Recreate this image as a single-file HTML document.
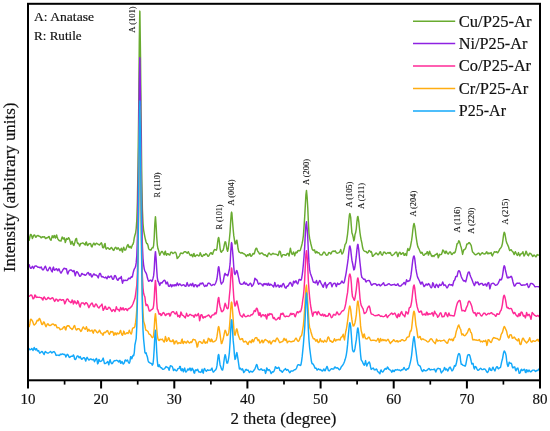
<!DOCTYPE html>
<html><head><meta charset="utf-8"><title>XRD</title>
<style>html,body{margin:0;padding:0;background:#fff}svg{display:block}text{font-family:"Liberation Serif","DejaVu Serif",serif;fill:#111;stroke:#111;stroke-width:0.18px}.s{stroke-width:0.1px}</style></head><body>
<svg width="550" height="431" viewBox="0 0 550 431">
<rect width="550" height="431" fill="#fff"/>
<g fill="none" stroke-width="1.45" stroke-linejoin="round" stroke-linecap="round">
<polyline stroke="#69ab30" points="28.0,234.8 28.6,237.6 29.2,240.3 29.9,236.8 30.5,234.5 31.1,234.5 31.7,235.9 32.4,238.5 33.0,237.3 33.6,235.4 34.2,235.0 34.8,235.2 35.5,237.1 36.1,237.3 36.7,236.0 37.3,235.6 37.9,235.5 38.6,235.9 39.2,236.3 39.8,236.4 40.4,236.9 41.1,237.8 41.7,237.5 42.3,236.7 42.9,236.9 43.5,237.1 44.2,236.7 44.8,237.1 45.4,238.5 46.0,238.5 46.7,237.8 47.3,237.8 47.9,237.7 48.5,236.6 49.1,236.5 49.8,238.6 50.4,239.8 51.0,240.3 51.6,238.3 52.2,235.8 52.9,237.3 53.5,237.7 54.1,235.5 54.7,235.7 55.4,238.1 56.0,237.1 56.6,235.0 57.2,237.0 57.8,238.8 58.5,239.8 59.1,240.5 59.7,240.7 60.3,240.9 61.0,241.1 61.6,238.8 62.2,237.0 62.8,238.6 63.4,239.0 64.1,237.7 64.7,239.3 65.3,242.6 65.9,240.8 66.5,238.5 67.2,239.2 67.8,239.2 68.4,237.7 69.0,238.1 69.7,239.8 70.3,242.1 70.9,244.3 71.5,242.2 72.1,241.3 72.8,243.6 73.4,244.9 74.0,245.4 74.6,243.3 75.3,240.3 75.9,238.8 76.5,238.4 77.1,241.9 77.7,243.6 78.4,243.2 79.0,244.3 79.6,246.1 80.2,244.8 80.8,243.4 81.5,243.4 82.1,243.2 82.7,242.9 83.3,243.2 84.0,243.8 84.6,244.5 85.2,245.0 85.8,242.5 86.4,241.9 87.1,245.0 87.7,245.6 88.3,244.4 88.9,243.9 89.5,243.7 90.2,243.5 90.8,244.0 91.4,246.6 92.0,246.9 92.7,245.0 93.3,243.9 93.9,243.1 94.5,244.3 95.1,245.0 95.8,243.8 96.4,243.3 97.0,243.5 97.6,243.9 98.3,244.3 98.9,244.7 99.5,245.0 100.1,244.2 100.7,243.5 101.4,242.7 102.0,244.3 102.6,247.4 103.2,247.8 103.8,247.5 104.5,244.2 105.1,243.5 105.7,247.9 106.3,249.2 107.0,248.1 107.6,247.8 108.2,247.9 108.8,248.8 109.4,249.3 110.1,249.0 110.7,248.3 111.3,247.4 111.9,248.0 112.6,249.1 113.2,250.1 113.8,250.4 114.4,248.9 115.0,247.8 115.7,247.3 116.3,248.0 116.9,249.3 117.5,248.5 118.1,247.8 118.8,248.7 119.4,249.6 120.0,250.6 120.6,249.9 121.3,248.2 121.9,250.2 122.5,252.1 123.1,248.7 123.7,247.2 124.4,249.4 125.0,250.2 125.6,249.9 126.2,248.4 126.9,246.6 127.5,245.1 128.1,244.6 128.7,246.9 129.3,247.5 130.0,246.3 130.6,247.0 131.2,248.2 131.8,246.6 132.4,244.9 133.1,244.0 133.7,241.7 134.3,237.7 134.9,235.3 135.6,233.0 136.2,228.5 136.8,220.1 137.4,201.9 138.0,166.3 138.7,108.6 139.3,40.4 139.8,11.1 139.9,11.7 140.5,55.6 141.2,125.4 141.8,179.3 142.4,209.5 143.0,223.5 143.6,230.1 144.3,233.9 144.9,237.1 145.5,239.8 146.1,242.0 146.7,243.5 147.4,243.7 148.0,245.4 148.6,248.5 149.2,249.5 149.9,249.7 150.5,250.1 151.1,250.0 151.7,248.4 152.3,247.8 153.0,247.9 153.6,245.5 154.2,238.1 154.8,224.4 155.4,216.8 155.5,216.9 156.1,225.3 156.7,237.0 157.3,244.8 157.9,248.6 158.6,250.4 159.2,253.0 159.8,255.2 160.4,253.8 161.0,252.5 161.7,251.4 162.3,251.5 162.9,252.5 163.5,253.7 164.2,254.8 164.8,252.2 165.4,251.2 166.0,254.6 166.6,255.3 167.3,253.6 167.9,253.6 168.5,254.2 169.1,254.9 169.8,255.1 170.4,253.2 171.0,252.1 171.6,252.1 172.2,252.7 172.9,253.5 173.5,253.2 174.1,252.8 174.7,252.1 175.3,252.1 176.0,253.1 176.6,255.4 177.2,258.5 177.8,258.0 178.5,257.0 179.1,256.5 179.7,255.5 180.3,253.5 180.9,252.9 181.6,253.4 182.2,253.5 182.8,253.5 183.4,252.7 184.1,252.0 184.7,251.8 185.3,251.8 185.9,252.0 186.5,252.6 187.2,253.3 187.8,252.2 188.4,251.7 189.0,253.1 189.6,254.3 190.3,255.5 190.9,255.4 191.5,254.5 192.1,255.9 192.8,256.8 193.4,254.0 194.0,253.4 194.6,256.1 195.2,256.5 195.9,255.6 196.5,255.1 197.1,254.8 197.7,255.2 198.3,255.6 199.0,256.0 199.6,255.0 200.2,252.8 200.8,254.1 201.5,256.1 202.1,256.5 202.7,256.3 203.3,255.0 203.9,254.6 204.6,255.2 205.2,254.6 205.8,253.6 206.4,254.1 207.1,254.8 207.7,256.0 208.3,256.3 208.9,255.7 209.5,254.6 210.2,253.3 210.8,252.8 211.4,252.7 212.0,254.1 212.6,254.2 213.3,252.0 213.9,250.6 214.5,249.5 215.1,249.7 215.8,249.8 216.4,250.2 217.0,248.1 217.6,242.7 218.2,238.4 218.6,237.5 218.9,238.1 219.5,242.9 220.1,248.6 220.7,251.5 221.4,252.3 222.0,251.2 222.6,250.6 223.2,250.2 223.8,247.5 224.5,243.9 225.1,241.8 225.1,241.8 225.7,242.2 226.3,245.5 226.9,249.2 227.6,251.2 228.2,248.9 228.8,243.8 229.4,239.0 230.1,231.6 230.7,221.1 231.3,213.3 231.6,212.1 231.9,213.3 232.5,221.2 233.2,229.8 233.8,235.9 234.4,239.6 235.0,243.8 235.7,243.9 236.3,240.9 236.8,240.2 236.9,240.3 237.5,244.1 238.1,248.8 238.8,251.5 239.4,252.3 240.0,252.4 240.6,253.1 241.2,253.1 241.9,252.5 242.5,252.9 243.1,253.5 243.7,253.7 244.4,254.0 245.0,254.5 245.6,255.3 246.2,256.5 246.8,256.0 247.5,254.7 248.1,255.3 248.7,255.6 249.3,254.0 250.0,253.8 250.6,255.9 251.2,256.3 251.8,255.8 252.4,254.6 253.1,253.4 253.7,254.1 254.3,253.7 254.9,251.5 255.5,249.3 256.2,248.2 256.6,248.4 256.8,248.5 257.4,250.5 258.0,251.6 258.7,252.2 259.3,253.7 259.9,254.1 260.5,253.5 261.1,253.2 261.8,252.9 262.4,253.4 263.0,253.9 263.6,254.7 264.3,255.0 264.9,254.7 265.5,255.0 266.1,255.5 266.7,256.3 267.4,256.6 268.0,254.5 268.6,253.2 269.2,253.1 269.8,253.7 270.5,254.6 271.1,254.7 271.7,254.6 272.3,253.7 273.0,253.3 273.6,253.9 274.2,254.1 274.8,254.0 275.4,254.1 276.1,254.3 276.7,254.4 277.3,254.8 277.9,255.5 278.6,254.4 279.2,251.4 279.8,251.2 280.4,251.9 281.0,254.9 281.7,256.9 282.3,255.4 282.9,254.6 283.5,254.6 284.1,254.7 284.8,255.0 285.4,255.3 286.0,255.3 286.6,254.3 287.3,253.6 287.9,253.3 288.5,254.3 289.1,256.0 289.7,252.2 290.4,248.2 291.0,251.1 291.6,253.3 292.2,254.4 292.9,253.7 293.5,251.9 294.1,253.5 294.7,255.7 295.3,253.4 296.0,252.0 296.6,253.0 297.2,252.5 297.8,250.6 298.4,250.5 299.1,250.8 299.7,250.8 300.3,250.3 300.9,248.1 301.6,245.8 302.2,243.2 302.8,240.1 303.4,235.6 304.0,227.3 304.7,216.6 305.3,205.8 305.9,194.8 306.5,190.4 306.5,190.5 307.1,196.9 307.8,208.6 308.4,222.5 309.0,233.8 309.6,238.2 310.3,241.1 310.9,244.0 311.5,246.4 312.1,248.8 312.7,249.9 313.4,250.5 314.0,249.9 314.6,250.0 315.2,252.6 315.9,253.0 316.5,251.4 317.1,251.9 317.7,252.9 318.3,252.7 319.0,252.7 319.6,253.9 320.2,254.7 320.8,254.9 321.4,255.0 322.1,254.9 322.7,253.8 323.3,252.7 323.9,252.1 324.6,252.2 325.2,253.4 325.8,254.4 326.4,255.2 327.0,255.2 327.7,254.9 328.3,253.4 328.9,252.5 329.5,252.6 330.2,253.1 330.8,254.0 331.4,253.1 332.0,251.8 332.6,251.3 333.3,251.0 333.9,251.5 334.5,251.4 335.1,250.8 335.7,251.6 336.4,252.9 337.0,253.1 337.6,253.2 338.2,252.9 338.9,252.6 339.5,252.2 340.1,251.0 340.7,249.5 341.3,251.9 342.0,254.1 342.6,253.5 343.2,252.3 343.8,250.0 344.5,247.4 345.1,244.4 345.7,243.7 346.3,242.4 346.9,238.6 347.6,233.8 348.2,227.9 348.8,220.8 349.4,215.0 349.8,213.6 350.0,213.8 350.7,217.4 351.3,225.6 351.9,232.7 352.5,234.4 353.2,237.2 353.8,240.9 354.4,239.2 355.0,234.5 355.6,232.8 356.3,228.8 356.9,221.9 357.5,217.1 357.9,216.4 358.1,217.1 358.8,221.8 359.4,227.6 360.0,232.8 360.6,236.8 361.2,240.0 361.9,243.1 362.5,247.0 363.1,249.2 363.7,250.5 364.3,251.1 365.0,251.4 365.6,251.4 366.2,251.7 366.8,252.7 367.5,253.0 368.1,252.5 368.7,250.9 369.1,250.7 369.3,250.5 369.9,251.0 370.6,252.2 371.2,251.5 371.8,252.8 372.4,256.2 373.1,256.3 373.7,255.1 374.3,254.8 374.9,254.3 375.5,253.3 376.2,253.0 376.8,253.6 377.4,254.2 378.0,254.9 378.6,254.2 379.3,253.3 379.9,251.9 380.5,251.8 381.1,253.8 381.8,254.8 382.4,255.2 383.0,253.8 383.6,252.3 384.2,252.1 384.9,252.3 385.5,253.3 386.1,253.7 386.7,253.5 387.4,253.0 388.0,252.4 388.6,253.0 389.2,253.3 389.8,252.4 390.5,252.9 391.1,254.6 391.7,255.3 392.3,255.6 392.9,255.0 393.6,254.5 394.2,254.0 394.8,253.3 395.4,252.4 396.1,252.1 396.7,252.2 397.3,254.7 397.9,256.5 398.5,254.2 399.2,252.7 399.8,252.2 400.4,252.9 401.0,254.4 401.7,254.0 402.3,253.2 402.9,252.7 403.5,253.1 404.1,255.3 404.8,255.3 405.4,253.6 406.0,254.4 406.6,255.5 407.2,251.1 407.9,248.4 408.5,250.3 409.1,250.5 409.7,249.1 410.4,246.8 411.0,243.7 411.6,240.4 412.2,236.0 412.8,230.2 413.5,225.1 414.0,223.4 414.1,223.5 414.7,225.9 415.3,229.9 415.9,235.3 416.6,240.1 417.2,244.0 417.8,246.6 418.4,247.9 419.1,249.3 419.7,250.7 420.3,252.1 420.9,253.3 421.5,252.3 422.2,252.4 422.8,254.3 423.4,255.2 424.0,255.3 424.7,254.5 425.3,253.5 425.9,253.9 426.5,253.6 427.1,251.7 427.8,252.2 428.4,255.1 429.0,253.9 429.6,251.3 430.2,252.7 430.9,254.2 431.5,256.0 432.1,256.5 432.7,255.6 433.4,255.8 434.0,256.5 434.6,255.5 435.2,254.5 435.8,254.7 436.5,254.4 437.1,253.3 437.7,254.8 438.3,257.8 439.0,256.3 439.6,254.3 440.2,254.6 440.8,254.7 441.4,254.4 442.1,252.8 442.7,250.1 443.3,250.3 443.9,251.2 444.5,252.8 445.2,253.4 445.8,251.3 446.4,251.2 447.0,252.9 447.7,253.6 448.3,254.1 448.9,253.1 449.5,252.2 450.1,251.9 450.8,252.5 451.4,254.4 452.0,254.5 452.6,253.7 453.3,253.0 453.9,252.4 454.5,252.9 455.1,252.3 455.7,250.2 456.4,247.2 457.0,243.8 457.6,243.8 458.2,242.5 458.8,240.7 458.8,240.6 459.5,241.6 460.1,243.8 460.7,246.0 461.3,247.8 462.0,251.2 462.6,254.4 463.2,251.8 463.8,249.7 464.4,249.7 465.1,249.2 465.7,248.2 466.3,246.3 466.9,244.0 467.6,244.0 468.2,243.6 468.8,242.7 469.1,242.6 469.4,242.7 470.0,243.5 470.7,244.6 471.3,245.8 471.9,249.1 472.5,251.8 473.1,252.4 473.8,253.1 474.4,254.0 475.0,254.5 475.6,254.7 476.3,254.5 476.9,254.2 477.5,253.7 478.1,253.3 478.7,253.1 479.4,253.7 480.0,255.1 480.6,254.6 481.2,253.7 481.9,253.0 482.5,252.7 483.1,253.5 483.7,253.9 484.3,254.0 485.0,253.8 485.6,253.5 486.2,252.3 486.8,251.7 487.4,253.4 488.1,253.9 488.7,253.0 489.3,253.1 489.9,253.6 490.6,252.9 491.2,252.6 491.8,255.1 492.4,255.9 493.0,254.3 493.7,253.0 494.3,251.7 494.9,251.9 495.5,252.2 496.2,251.8 496.8,251.8 497.4,252.8 498.0,252.5 498.6,251.4 499.3,250.2 499.9,248.7 500.5,248.2 501.1,247.4 501.7,246.3 502.4,243.6 503.0,239.3 503.6,234.7 504.2,232.2 504.3,232.2 504.9,233.6 505.5,237.2 506.1,240.5 506.7,242.9 507.3,244.0 508.0,245.6 508.6,247.0 509.2,249.2 509.8,250.6 510.5,249.9 511.1,249.7 511.1,249.7 511.7,250.5 512.3,251.5 512.9,251.7 513.6,253.3 514.2,254.6 514.8,252.6 515.4,251.7 516.0,253.2 516.7,254.5 517.3,255.5 517.9,254.2 518.5,252.6 519.2,254.8 519.8,255.9 520.4,254.4 521.0,253.7 521.6,253.9 522.3,253.0 522.9,251.7 523.5,254.2 524.1,256.0 524.7,255.0 525.4,253.4 526.0,251.3 526.6,252.1 527.2,254.3 527.9,255.2 528.5,255.7 529.1,254.1 529.7,253.2 530.3,253.4 531.0,253.9 531.6,254.7 532.2,255.7 532.8,256.5 533.5,255.5 534.1,254.9 534.7,255.6 535.3,256.2 535.9,256.9 536.6,255.9 537.2,254.6 537.8,254.9 538.4,255.1 539.0,254.8 539.7,254.4"/>
<polyline stroke="#8e22e2" points="28.0,266.7 28.6,265.4 29.2,264.7 29.9,267.0 30.5,268.3 31.1,268.2 31.7,267.4 32.4,266.3 33.0,267.4 33.6,268.5 34.2,267.1 34.8,266.1 35.5,266.0 36.1,266.0 36.7,266.2 37.3,266.7 37.9,267.2 38.6,267.1 39.2,267.2 39.8,267.8 40.4,267.7 41.1,266.9 41.7,268.0 42.3,269.5 42.9,269.9 43.5,269.8 44.2,268.3 44.8,267.0 45.4,266.2 46.0,267.6 46.7,269.9 47.3,270.6 47.9,270.8 48.5,269.5 49.1,268.3 49.8,267.2 50.4,267.9 51.0,269.7 51.6,271.1 52.2,271.9 52.9,268.4 53.5,267.1 54.1,269.7 54.7,270.3 55.4,269.6 56.0,269.0 56.6,268.7 57.2,270.2 57.8,270.7 58.5,268.9 59.1,269.0 59.7,270.8 60.3,272.1 61.0,273.2 61.6,272.1 62.2,271.1 62.8,270.0 63.4,269.1 64.1,268.2 64.7,268.4 65.3,269.0 65.9,268.6 66.5,268.9 67.2,272.6 67.8,274.0 68.4,272.1 69.0,271.0 69.7,270.3 70.3,270.0 70.9,269.9 71.5,270.2 72.1,270.8 72.8,271.6 73.4,271.4 74.0,270.5 74.6,273.0 75.3,275.8 75.9,273.4 76.5,271.7 77.1,271.7 77.7,272.4 78.4,273.7 79.0,274.9 79.6,276.2 80.2,276.2 80.8,275.7 81.5,273.9 82.1,273.4 82.7,274.2 83.3,274.5 84.0,274.4 84.6,274.9 85.2,275.3 85.8,275.1 86.4,274.5 87.1,273.3 87.7,272.8 88.3,272.5 88.9,273.9 89.5,275.1 90.2,273.8 90.8,273.9 91.4,276.7 92.0,277.0 92.7,275.7 93.3,274.7 93.9,273.8 94.5,274.6 95.1,275.1 95.8,275.0 96.4,275.2 97.0,275.7 97.6,276.7 98.3,277.9 98.9,275.5 99.5,273.6 100.1,273.3 100.7,274.2 101.4,276.6 102.0,277.0 102.6,276.5 103.2,276.9 103.8,277.3 104.5,277.7 105.1,277.7 105.7,277.1 106.3,277.7 107.0,278.8 107.6,277.4 108.2,276.1 108.8,277.1 109.4,277.5 110.1,276.7 110.7,276.2 111.3,276.0 111.9,277.5 112.6,279.3 113.2,279.3 113.8,278.6 114.4,276.0 115.0,275.4 115.7,276.3 116.3,277.7 116.9,279.2 117.5,280.1 118.1,280.3 118.8,278.6 119.4,277.9 120.0,278.5 120.6,277.7 121.3,276.5 121.9,280.3 122.5,283.2 123.1,281.1 123.7,280.1 124.4,280.5 125.0,280.5 125.6,280.2 126.2,280.4 126.9,280.5 127.5,280.0 128.1,279.3 128.7,278.1 129.3,278.1 130.0,278.8 130.6,277.9 131.2,276.7 131.8,277.2 132.4,276.5 133.1,273.1 133.7,270.7 134.3,269.1 134.9,268.0 135.6,266.4 136.2,262.9 136.8,255.6 137.4,238.3 138.0,203.9 138.7,147.8 139.3,84.6 139.8,57.7 139.9,58.3 140.5,98.6 141.2,163.3 141.8,216.5 142.4,246.1 143.0,258.5 143.6,264.8 144.3,269.1 144.9,271.0 145.5,272.2 146.1,273.1 146.7,274.7 147.4,277.8 148.0,279.8 148.6,281.2 149.2,281.0 149.9,280.4 150.5,280.1 151.1,280.2 151.7,281.4 152.3,280.9 153.0,278.4 153.6,275.9 154.2,269.7 154.8,257.7 155.4,251.6 155.5,251.6 156.1,258.6 156.7,269.4 157.3,277.7 157.9,281.0 158.6,282.0 159.2,284.1 159.8,285.4 160.4,283.5 161.0,282.6 161.7,283.1 162.3,282.6 162.9,281.5 163.5,280.9 164.2,280.3 164.8,280.5 165.4,281.4 166.0,283.7 166.6,283.7 167.3,282.1 167.9,283.8 168.5,286.1 169.1,286.4 169.8,286.1 170.4,284.5 171.0,284.7 171.6,286.7 172.2,286.1 172.9,284.7 173.5,285.6 174.1,286.0 174.7,284.7 175.3,284.6 176.0,285.8 176.6,284.8 177.2,282.9 177.8,284.3 178.5,285.5 179.1,284.4 179.7,283.9 180.3,284.3 180.9,284.9 181.6,285.7 182.2,285.4 182.8,285.0 183.4,284.8 184.1,284.9 184.7,285.8 185.3,286.2 185.9,286.3 186.5,284.5 187.2,282.6 187.8,284.6 188.4,286.0 189.0,286.1 189.6,285.4 190.3,284.0 190.9,284.5 191.5,285.7 192.1,284.0 192.8,283.3 193.4,286.1 194.0,286.7 194.6,285.1 195.2,284.7 195.9,284.8 196.5,286.1 197.1,286.9 197.7,285.5 198.3,285.0 199.0,285.8 199.6,285.0 200.2,283.3 200.8,283.6 201.5,283.9 202.1,283.0 202.7,282.9 203.3,284.1 203.9,285.3 204.6,286.5 205.2,286.1 205.8,285.3 206.4,286.0 207.1,285.9 207.7,283.9 208.3,283.1 208.9,283.2 209.5,283.5 210.2,283.9 210.8,284.9 211.4,285.6 212.0,285.3 212.6,284.9 213.3,284.4 213.9,284.6 214.5,285.0 215.1,284.0 215.8,282.6 216.4,281.1 217.0,278.5 217.6,274.2 218.2,268.2 218.6,266.8 218.9,267.1 219.5,271.5 220.1,277.2 220.7,282.1 221.4,284.1 222.0,283.0 222.6,282.4 223.2,281.7 223.8,278.2 224.5,274.6 225.1,273.3 225.1,273.3 225.7,274.9 226.3,274.7 226.9,274.6 227.6,275.8 228.2,274.7 228.8,271.8 229.4,269.5 230.1,263.7 230.7,252.7 231.3,244.0 231.6,242.6 231.9,243.6 232.5,250.4 233.2,258.4 233.8,267.2 234.4,273.1 235.0,274.5 235.7,273.3 236.3,271.1 236.8,270.6 236.9,270.7 237.5,272.5 238.1,275.6 238.8,278.7 239.4,281.8 240.0,283.5 240.6,284.0 241.2,284.2 241.9,284.2 242.5,284.1 243.1,284.0 243.7,282.5 244.4,282.0 245.0,283.8 245.6,284.2 246.2,283.2 246.8,283.8 247.5,284.9 248.1,285.3 248.7,285.4 249.3,284.2 250.0,283.5 250.6,283.2 251.2,284.4 251.8,286.4 252.4,285.8 253.1,284.9 253.7,283.6 254.3,281.4 254.9,278.2 255.5,278.7 256.2,279.8 256.6,279.7 256.8,279.7 257.4,281.1 258.0,283.2 258.7,284.3 259.3,283.4 259.9,283.2 260.5,283.6 261.1,283.9 261.8,284.2 262.4,285.5 263.0,285.9 263.6,283.9 264.3,283.6 264.9,284.6 265.5,284.3 266.1,283.5 266.7,284.7 267.4,285.2 268.0,283.4 268.6,283.3 269.2,285.2 269.8,285.2 270.5,284.3 271.1,284.5 271.7,284.9 272.3,285.6 273.0,286.3 273.6,286.9 274.2,285.3 274.8,282.5 275.4,284.5 276.1,286.8 276.7,286.3 277.3,285.7 277.9,284.9 278.6,285.5 279.2,287.2 279.8,286.5 280.4,285.4 281.0,286.5 281.7,286.7 282.3,284.8 282.9,283.8 283.5,283.5 284.1,285.0 284.8,287.0 285.4,287.9 286.0,288.2 286.6,286.7 287.3,286.0 287.9,286.2 288.5,285.2 289.1,283.9 289.7,283.0 290.4,282.4 291.0,283.4 291.6,284.7 292.2,286.3 292.9,284.6 293.5,281.2 294.1,281.9 294.7,282.7 295.3,281.2 296.0,280.8 296.6,282.5 297.2,283.5 297.8,283.9 298.4,281.8 299.1,279.4 299.7,279.5 300.3,279.7 300.9,280.3 301.6,278.7 302.2,275.0 302.8,270.3 303.4,264.1 304.0,256.7 304.7,246.6 305.3,234.4 305.9,225.0 306.5,221.8 306.5,222.0 307.1,228.2 307.8,238.8 308.4,252.1 309.0,262.9 309.6,269.4 310.3,273.2 310.9,274.7 311.5,276.4 312.1,278.0 312.7,280.3 313.4,282.2 314.0,282.2 314.6,282.3 315.2,282.9 315.9,282.1 316.5,280.5 317.1,282.5 317.7,284.9 318.3,283.3 319.0,281.9 319.6,280.6 320.2,280.9 320.8,282.6 321.4,283.9 322.1,284.9 322.7,286.6 323.3,287.3 323.9,285.0 324.6,283.3 325.2,282.4 325.8,284.5 326.4,287.9 327.0,286.3 327.7,284.7 328.3,284.3 328.9,283.7 329.5,282.9 330.2,282.6 330.8,282.7 331.4,284.8 332.0,286.7 332.6,285.0 333.3,283.8 333.9,283.4 334.5,283.3 335.1,283.3 335.7,284.9 336.4,286.6 337.0,284.4 337.6,283.1 338.2,284.2 338.9,284.4 339.5,283.9 340.1,283.6 340.7,283.3 341.3,281.9 342.0,281.1 342.6,282.2 343.2,282.9 343.8,283.1 344.5,281.2 345.1,278.2 345.7,275.3 346.3,271.8 346.9,267.6 347.6,263.0 348.2,258.4 348.8,252.2 349.4,247.1 349.8,245.9 350.0,246.1 350.7,249.4 351.3,255.1 351.9,260.2 352.5,263.0 353.2,266.5 353.8,269.9 354.4,269.3 355.0,266.5 355.6,262.1 356.3,256.2 356.9,249.9 357.5,245.1 357.9,244.3 358.1,245.0 358.8,250.2 359.4,256.9 360.0,262.8 360.6,268.2 361.2,274.3 361.9,277.5 362.5,277.9 363.1,278.6 363.7,279.3 364.3,279.2 365.0,279.3 365.6,281.3 366.2,282.0 366.8,280.9 367.5,280.6 368.1,280.6 368.7,280.4 369.1,280.4 369.3,280.6 369.9,281.7 370.6,283.0 371.2,284.7 371.8,285.2 372.4,284.7 373.1,284.2 373.7,283.7 374.3,283.8 374.9,283.9 375.5,283.8 376.2,284.3 376.8,285.5 377.4,285.3 378.0,284.8 378.6,284.4 379.3,284.4 379.9,285.6 380.5,285.9 381.1,285.2 381.8,284.7 382.4,284.1 383.0,283.2 383.6,282.7 384.2,284.6 384.9,285.6 385.5,285.4 386.1,285.2 386.7,285.1 387.4,284.6 388.0,284.2 388.6,283.8 389.2,283.8 389.8,284.3 390.5,284.8 391.1,285.3 391.7,285.1 392.3,284.7 392.9,284.7 393.6,284.6 394.2,284.3 394.8,284.5 395.4,285.3 396.1,285.3 396.7,285.2 397.3,284.3 397.9,283.8 398.5,285.3 399.2,286.0 399.8,286.0 400.4,285.9 401.0,285.9 401.7,285.0 402.3,284.1 402.9,284.0 403.5,283.4 404.1,282.4 404.8,283.1 405.4,284.7 406.0,282.2 406.6,279.7 407.2,281.0 407.9,281.6 408.5,281.0 409.1,280.8 409.7,280.7 410.4,278.3 411.0,274.9 411.6,270.4 412.2,265.1 412.8,260.0 413.5,256.7 414.0,255.9 414.1,255.9 414.7,258.4 415.3,263.7 415.9,268.7 416.6,272.8 417.2,275.7 417.8,277.7 418.4,278.8 419.1,280.2 419.7,281.4 420.3,283.2 420.9,284.2 421.5,282.5 422.2,282.1 422.8,283.4 423.4,284.9 424.0,286.6 424.7,286.0 425.3,285.1 425.9,284.2 426.5,284.1 427.1,285.2 427.8,284.9 428.4,283.6 429.0,284.0 429.6,284.8 430.2,286.3 430.9,287.5 431.5,287.8 432.1,286.2 432.7,282.8 433.4,283.7 434.0,286.0 434.6,287.2 435.2,287.6 435.8,285.2 436.5,284.3 437.1,285.1 437.7,286.2 438.3,287.4 439.0,285.6 439.6,284.2 440.2,285.1 440.8,285.5 441.4,285.0 442.1,283.6 442.7,281.9 443.3,283.6 443.9,285.4 444.5,284.9 445.2,284.9 445.8,285.9 446.4,287.0 447.0,288.0 447.7,287.1 448.3,285.8 448.9,284.7 449.5,284.2 450.1,284.9 450.8,285.0 451.4,284.7 452.0,285.1 452.6,285.7 453.3,283.0 453.9,280.8 454.5,280.4 455.1,279.1 455.7,276.7 456.4,276.3 457.0,276.6 457.6,273.8 458.2,271.4 458.8,270.7 458.8,270.7 459.5,271.1 460.1,272.4 460.7,274.6 461.3,276.8 462.0,278.3 462.6,279.2 463.2,280.5 463.8,281.1 464.4,280.7 465.1,281.0 465.7,281.8 466.3,279.8 466.9,277.0 467.6,274.2 468.2,272.4 468.8,272.0 469.1,272.0 469.4,272.4 470.0,274.7 470.7,276.7 471.3,278.0 471.9,279.6 472.5,281.1 473.1,282.7 473.8,284.2 474.4,285.6 475.0,284.4 475.6,282.0 476.3,282.5 476.9,282.8 477.5,282.0 478.1,282.4 478.7,284.5 479.4,284.8 480.0,284.0 480.6,283.7 481.2,283.5 481.9,283.4 482.5,283.9 483.1,285.2 483.7,285.3 484.3,284.6 485.0,284.1 485.6,283.9 486.2,285.6 486.8,286.1 487.4,283.9 488.1,282.8 488.7,282.6 489.3,285.3 489.9,288.9 490.6,286.1 491.2,283.9 491.8,283.7 492.4,283.4 493.0,283.2 493.7,283.5 494.3,284.0 494.9,284.7 495.5,285.3 496.2,285.1 496.8,284.9 497.4,284.4 498.0,283.6 498.6,282.4 499.3,280.8 499.9,279.2 500.5,279.9 501.1,279.9 501.7,279.0 502.4,276.4 503.0,272.3 503.6,267.8 504.2,265.7 504.3,265.7 504.9,267.0 505.5,270.5 506.1,272.9 506.7,275.4 507.3,277.7 508.0,278.0 508.6,277.1 509.2,277.6 509.8,277.4 510.5,276.7 511.1,276.3 511.1,276.3 511.7,277.0 512.3,279.0 512.9,281.7 513.6,284.1 514.2,285.9 514.8,285.9 515.4,285.3 516.0,284.0 516.7,283.4 517.3,283.1 517.9,283.2 518.5,283.3 519.2,283.1 519.8,283.3 520.4,284.2 521.0,284.9 521.6,285.3 522.3,285.2 522.9,285.0 523.5,285.0 524.1,285.0 524.7,285.0 525.4,284.9 526.0,284.6 526.6,284.1 527.2,283.6 527.9,285.9 528.5,287.5 529.1,286.9 529.7,285.7 530.3,283.9 531.0,283.4 531.6,283.4 532.2,283.7 532.8,284.0 533.5,284.6 534.1,285.4 534.7,286.5 535.3,286.8 535.9,286.6 536.6,286.6 537.2,286.6 537.8,286.6 538.4,286.7 539.0,286.7 539.7,286.5"/>
<polyline stroke="#ff2a97" points="28.0,294.0 28.6,296.4 29.2,296.2 29.9,295.8 30.5,295.2 31.1,295.0 31.7,295.1 32.4,296.9 33.0,298.8 33.6,298.6 34.2,297.6 34.8,295.1 35.5,295.2 36.1,297.2 36.7,297.4 37.3,297.1 37.9,297.3 38.6,297.4 39.2,297.3 39.8,297.4 40.4,297.6 41.1,297.8 41.7,298.0 42.3,299.4 42.9,300.1 43.5,297.8 44.2,296.9 44.8,298.0 45.4,298.8 46.0,299.6 46.7,299.3 47.3,298.8 47.9,297.7 48.5,297.4 49.1,298.4 49.8,298.9 50.4,299.1 51.0,298.6 51.6,298.1 52.2,297.8 52.9,298.0 53.5,299.2 54.1,300.3 54.7,301.4 55.4,300.4 56.0,299.1 56.6,299.3 57.2,299.8 57.8,301.1 58.5,301.0 59.1,299.7 59.7,299.4 60.3,299.4 61.0,300.0 61.6,300.3 62.2,299.9 62.8,299.6 63.4,299.6 64.1,301.2 64.7,303.8 65.3,302.8 65.9,301.4 66.5,299.8 67.2,298.9 67.8,299.1 68.4,300.0 69.0,301.3 69.7,301.7 70.3,302.0 70.9,302.7 71.5,302.4 72.1,300.0 72.8,300.8 73.4,304.0 74.0,303.0 74.6,301.0 75.3,302.0 75.9,303.0 76.5,303.9 77.1,303.2 77.7,300.8 78.4,301.9 79.0,304.1 79.6,306.1 80.2,307.1 80.8,304.5 81.5,303.0 82.1,302.9 82.7,302.9 83.3,302.9 84.0,303.9 84.6,304.7 85.2,303.5 85.8,302.7 86.4,302.7 87.1,303.4 87.7,304.6 88.3,306.3 88.9,307.7 89.5,306.3 90.2,305.1 90.8,304.3 91.4,303.5 92.0,302.9 92.7,304.3 93.3,306.2 93.9,306.7 94.5,306.7 95.1,304.9 95.8,304.1 96.4,304.3 97.0,305.3 97.6,306.6 98.3,307.5 98.9,308.0 99.5,307.1 100.1,306.3 100.7,305.7 101.4,304.9 102.0,304.1 102.6,307.3 103.2,310.3 103.8,309.3 104.5,308.0 105.1,306.2 105.7,307.0 106.3,309.3 107.0,309.4 107.6,309.2 108.2,308.0 108.8,307.3 109.4,307.5 110.1,308.3 110.7,309.4 111.3,310.5 111.9,311.5 112.6,310.4 113.2,309.6 113.8,309.8 114.4,310.5 115.0,311.6 115.7,309.8 116.3,306.8 116.9,308.3 117.5,309.5 118.1,309.4 118.8,309.9 119.4,311.1 120.0,309.8 120.6,307.5 121.3,308.7 121.9,309.8 122.5,308.1 123.1,307.8 123.7,309.8 124.4,310.0 125.0,309.0 125.6,308.8 126.2,308.8 126.9,310.1 127.5,310.6 128.1,309.1 128.7,308.5 129.3,308.5 130.0,308.1 130.6,307.4 131.2,306.9 131.8,306.2 132.4,305.0 133.1,303.5 133.7,301.7 134.3,300.2 134.9,298.6 135.6,294.3 136.2,289.6 136.8,285.1 137.4,272.7 138.0,244.1 138.7,192.0 139.3,131.1 139.8,106.1 139.9,106.6 140.5,145.7 141.2,205.7 141.8,251.1 142.4,276.2 143.0,287.8 143.6,293.3 144.3,295.5 144.9,297.0 145.5,302.4 146.1,305.6 146.7,304.5 147.4,304.9 148.0,306.3 148.6,308.6 149.2,310.9 149.9,310.9 150.5,310.7 151.1,309.9 151.7,309.5 152.3,309.3 153.0,308.5 153.6,305.6 154.2,298.7 154.8,287.2 155.4,280.4 155.5,280.4 156.1,287.6 156.7,301.8 157.3,309.1 157.9,310.0 158.6,312.5 159.2,314.3 159.8,313.6 160.4,313.8 161.0,315.5 161.7,315.3 162.3,313.8 162.9,313.0 163.5,312.4 164.2,313.4 164.8,314.5 165.4,315.6 166.0,315.3 166.6,313.9 167.3,313.9 167.9,314.1 168.5,313.4 169.1,313.5 169.8,316.0 170.4,315.9 171.0,313.3 171.6,312.4 172.2,312.0 172.9,311.7 173.5,311.7 174.1,312.6 174.7,313.4 175.3,314.0 176.0,313.2 176.6,311.8 177.2,314.3 177.8,316.5 178.5,315.4 179.1,315.4 179.7,317.2 180.3,315.7 180.9,312.0 181.6,313.4 182.2,315.3 182.8,315.4 183.4,315.7 184.1,316.5 184.7,317.2 185.3,317.9 185.9,315.9 186.5,313.3 187.2,315.0 187.8,316.2 188.4,316.0 189.0,315.5 189.6,314.5 190.3,314.4 190.9,314.8 191.5,315.3 192.1,315.7 192.8,315.4 193.4,315.9 194.0,317.3 194.6,316.4 195.2,314.4 195.9,315.0 196.5,315.7 197.1,315.5 197.7,314.8 198.3,313.5 199.0,316.0 199.6,320.7 200.2,318.4 200.8,315.2 201.5,314.7 202.1,315.1 202.7,317.7 203.3,318.1 203.9,316.8 204.6,316.9 205.2,317.4 205.8,316.6 206.4,316.1 207.1,316.0 207.7,315.6 208.3,314.9 208.9,315.2 209.5,316.0 210.2,317.1 210.8,317.7 211.4,316.4 212.0,315.4 212.6,315.0 213.3,314.9 213.9,314.8 214.5,313.7 215.1,312.8 215.8,314.0 216.4,313.0 217.0,308.4 217.6,303.2 218.2,298.5 218.6,297.4 218.9,298.1 219.5,303.5 220.1,306.7 220.7,308.5 221.4,311.2 222.0,311.8 222.6,311.1 223.2,310.7 223.8,309.4 224.5,305.9 225.1,303.3 225.1,303.3 225.7,304.5 226.3,306.8 226.9,308.2 227.6,308.8 228.2,308.1 228.8,302.8 229.4,295.8 230.1,288.7 230.7,278.4 231.3,269.4 231.6,267.9 231.9,269.1 232.5,277.4 233.2,288.5 233.8,297.6 234.4,303.5 235.0,306.0 235.7,305.0 236.3,302.0 236.8,301.0 236.9,301.1 237.5,303.6 238.1,306.5 238.8,309.8 239.4,312.3 240.0,314.5 240.6,315.6 241.2,316.0 241.9,316.6 242.5,317.1 243.1,315.1 243.7,314.0 244.4,315.4 245.0,316.3 245.6,316.7 246.2,316.6 246.8,316.3 247.5,315.8 248.1,315.4 248.7,315.8 249.3,316.1 250.0,316.1 250.6,315.5 251.2,314.6 251.8,314.7 252.4,314.7 253.1,313.7 253.7,312.3 254.3,310.5 254.9,310.6 255.5,311.4 256.2,308.8 256.6,308.1 256.8,308.1 257.4,309.1 258.0,311.5 258.7,315.1 259.3,315.3 259.9,312.6 260.5,314.3 261.1,316.9 261.8,315.8 262.4,314.9 263.0,314.7 263.6,315.1 264.3,316.0 264.9,315.6 265.5,314.7 266.1,317.5 266.7,319.1 267.4,315.3 268.0,313.9 268.6,315.4 269.2,315.0 269.8,313.6 270.5,313.9 271.1,314.3 271.7,313.9 272.3,314.8 273.0,317.9 273.6,318.5 274.2,317.6 274.8,318.6 275.4,319.8 276.1,319.9 276.7,319.6 277.3,319.0 277.9,318.3 278.6,317.5 279.2,318.3 279.8,319.3 280.4,315.8 281.0,313.4 281.7,314.3 282.3,314.2 282.9,313.1 283.5,314.1 284.1,315.9 284.8,316.4 285.4,316.8 286.0,316.3 286.6,316.1 287.3,316.3 287.9,316.4 288.5,316.4 289.1,316.1 289.7,315.5 290.4,313.8 291.0,313.2 291.6,314.5 292.2,314.4 292.9,313.6 293.5,313.7 294.1,314.1 294.7,316.1 295.3,316.8 296.0,314.8 296.6,313.1 297.2,311.7 297.8,312.1 298.4,312.8 299.1,311.8 299.7,311.2 300.3,311.8 300.9,310.9 301.6,308.3 302.2,304.7 302.8,299.9 303.4,296.1 304.0,289.7 304.7,279.1 305.3,266.2 305.9,254.7 306.5,250.7 306.5,250.7 307.1,255.7 307.8,268.2 308.4,281.7 309.0,290.3 309.6,297.1 310.3,303.2 310.9,307.5 311.5,310.5 312.1,313.7 312.7,316.2 313.4,313.8 314.0,312.1 314.6,312.4 315.2,312.3 315.9,311.8 316.5,313.1 317.1,314.8 317.7,312.6 318.3,311.4 319.0,312.6 319.6,313.7 320.2,314.6 320.8,315.1 321.4,315.5 322.1,314.5 322.7,314.0 323.3,315.7 323.9,316.0 324.6,314.6 325.2,315.1 325.8,316.4 326.4,316.2 327.0,315.9 327.7,316.2 328.3,315.6 328.9,313.5 329.5,313.5 330.2,314.8 330.8,316.3 331.4,317.7 332.0,317.4 332.6,316.6 333.3,314.8 333.9,314.3 334.5,314.9 335.1,315.1 335.7,315.1 336.4,313.1 337.0,311.9 337.6,313.0 338.2,313.9 338.9,314.7 339.5,314.5 340.1,314.0 340.7,313.1 341.3,312.1 342.0,311.2 342.6,310.7 343.2,310.8 343.8,310.1 344.5,308.7 345.1,306.6 345.7,303.9 346.3,300.2 346.9,296.2 347.6,292.4 348.2,285.7 348.8,278.4 349.4,274.8 349.8,274.0 350.0,274.3 350.7,276.9 351.3,282.5 351.9,291.7 352.5,296.7 353.2,297.8 353.8,299.6 354.4,300.3 355.0,298.1 355.6,294.4 356.3,289.5 356.9,283.6 357.5,278.8 357.9,277.9 358.1,278.5 358.8,283.0 359.4,290.9 360.0,298.3 360.6,302.7 361.2,305.4 361.9,306.7 362.5,307.9 363.1,308.9 363.7,311.4 364.3,313.5 365.0,313.3 365.6,312.8 366.2,312.1 366.8,310.5 367.5,308.1 368.1,307.1 368.7,306.3 369.1,306.0 369.3,306.2 369.9,308.0 370.6,311.7 371.2,313.8 371.8,314.1 372.4,314.4 373.1,314.5 373.7,315.0 374.3,315.4 374.9,315.7 375.5,315.7 376.2,315.4 376.8,315.4 377.4,315.4 378.0,315.0 378.6,314.7 379.3,315.2 379.9,315.7 380.5,316.4 381.1,316.3 381.8,316.0 382.4,316.4 383.0,316.7 383.6,316.6 384.2,316.4 384.9,316.0 385.5,315.4 386.1,314.5 386.7,316.0 387.4,317.6 388.0,316.6 388.6,315.7 389.2,315.3 389.8,314.8 390.5,314.1 391.1,313.5 391.7,312.9 392.3,313.8 392.9,314.4 393.6,313.9 394.2,313.5 394.8,313.1 395.4,314.1 396.1,315.7 396.7,317.1 397.3,317.7 397.9,314.6 398.5,313.9 399.2,316.5 399.8,315.9 400.4,314.0 401.0,312.5 401.7,311.6 402.3,313.6 402.9,314.9 403.5,315.0 404.1,315.7 404.8,316.8 405.4,314.4 406.0,311.6 406.6,312.3 407.2,313.1 407.9,314.0 408.5,312.3 409.1,308.3 409.7,307.5 410.4,307.2 411.0,305.1 411.6,301.8 412.2,297.0 412.8,291.1 413.5,286.2 414.0,285.0 414.1,285.0 414.7,287.8 415.3,293.4 415.9,299.2 416.6,303.7 417.2,306.9 417.8,308.9 418.4,310.8 419.1,312.3 419.7,312.1 420.3,311.6 420.9,310.9 421.5,311.5 422.2,314.3 422.8,315.0 423.4,314.4 424.0,314.1 424.7,313.9 425.3,315.1 425.9,315.0 426.5,312.2 427.1,312.4 427.8,314.8 428.4,314.5 429.0,313.6 429.6,314.0 430.2,314.2 430.9,313.9 431.5,313.4 432.1,312.6 432.7,314.0 433.4,316.1 434.0,313.3 434.6,311.3 435.2,312.9 435.8,313.9 436.5,314.2 437.1,315.5 437.7,317.3 438.3,316.6 439.0,315.7 439.6,314.2 440.2,313.2 440.8,312.8 441.4,314.2 442.1,316.8 442.7,316.8 443.3,316.5 443.9,316.5 444.5,315.6 445.2,312.9 445.8,312.6 446.4,314.2 447.0,315.5 447.7,316.7 448.3,314.3 448.9,313.0 449.5,314.8 450.1,315.6 450.8,315.4 451.4,315.4 452.0,315.6 452.6,315.7 453.3,315.9 453.9,316.1 454.5,315.0 455.1,312.1 455.7,309.3 456.4,306.4 457.0,304.2 457.6,302.5 458.2,301.8 458.8,300.9 458.8,300.9 459.5,300.4 460.1,300.8 460.7,303.9 461.3,307.6 462.0,310.8 462.6,310.6 463.2,310.4 463.8,310.7 464.4,311.0 465.1,311.3 465.7,309.9 466.3,307.8 466.9,306.7 467.6,305.0 468.2,302.4 468.8,301.3 469.1,301.2 469.4,301.3 470.0,302.0 470.7,303.5 471.3,305.1 471.9,306.8 472.5,309.7 473.1,311.8 473.8,313.0 474.4,313.1 475.0,312.5 475.6,314.5 476.3,316.0 476.9,314.0 477.5,312.9 478.1,313.2 478.7,313.2 479.4,313.0 480.0,314.0 480.6,315.1 481.2,315.8 481.9,316.0 482.5,314.9 483.1,314.1 483.7,313.3 484.3,313.2 485.0,313.3 485.6,314.3 486.2,315.0 486.8,314.7 487.4,314.2 488.1,313.4 488.7,313.5 489.3,313.9 489.9,313.5 490.6,313.1 491.2,312.7 491.8,312.8 492.4,313.8 493.0,314.1 493.7,314.2 494.3,314.7 494.9,315.2 495.5,316.2 496.2,316.0 496.8,314.0 497.4,313.7 498.0,314.3 498.6,314.3 499.3,314.0 499.9,312.3 500.5,310.9 501.1,310.3 501.7,308.1 502.4,304.6 503.0,299.9 503.6,296.1 504.2,295.3 504.3,295.3 504.9,297.0 505.5,299.7 506.1,303.0 506.7,306.9 507.3,307.9 508.0,307.4 508.6,308.3 509.2,308.7 509.8,308.6 510.5,308.4 511.1,308.4 511.1,308.4 511.7,309.2 512.3,310.8 512.9,312.5 513.6,313.7 514.2,312.7 514.8,312.5 515.4,313.9 516.0,314.9 516.7,315.7 517.3,316.4 517.9,316.7 518.5,314.4 519.2,313.6 519.8,315.9 520.4,315.2 521.0,312.2 521.6,312.1 522.3,312.8 522.9,314.9 523.5,316.2 524.1,315.4 524.7,316.0 525.4,317.9 526.0,315.8 526.6,312.4 527.2,314.4 527.9,315.8 528.5,314.6 529.1,314.3 529.7,315.4 530.3,317.1 531.0,319.3 531.6,315.7 532.2,312.4 532.8,313.2 533.5,314.0 534.1,314.8 534.7,315.4 535.3,315.7 535.9,316.0 536.6,316.2 537.2,315.7 537.8,315.5 538.4,315.8 539.0,316.4 539.7,317.2"/>
<polyline stroke="#ffad12" points="28.0,324.8 28.6,326.8 29.2,326.5 29.9,323.7 30.5,319.5 31.1,319.3 31.7,319.9 32.4,321.0 33.0,322.4 33.6,324.4 34.2,325.1 34.8,324.5 35.5,323.8 36.1,323.0 36.7,321.3 37.3,320.2 37.9,320.8 38.6,320.3 39.2,318.4 39.8,318.9 40.4,320.2 41.1,322.3 41.7,324.2 42.3,324.6 42.9,324.0 43.5,321.9 44.2,322.2 44.8,323.8 45.4,325.5 46.0,326.8 46.7,325.3 47.3,324.2 47.9,323.8 48.5,324.3 49.1,325.4 49.8,325.5 50.4,325.5 51.0,325.1 51.6,324.7 52.2,324.1 52.9,324.0 53.5,324.2 54.1,324.8 54.7,325.4 55.4,324.8 56.0,324.9 56.6,326.9 57.2,327.8 57.8,327.5 58.5,327.6 59.1,327.9 59.7,328.9 60.3,329.7 61.0,329.3 61.6,329.1 62.2,329.0 62.8,328.3 63.4,327.3 64.1,326.7 64.7,326.7 65.3,329.4 65.9,329.9 66.5,326.9 67.2,325.8 67.8,326.0 68.4,325.8 69.0,325.8 69.7,327.0 70.3,328.0 70.9,328.3 71.5,328.8 72.1,329.5 72.8,328.7 73.4,327.5 74.0,326.0 74.6,325.5 75.3,327.7 75.9,329.2 76.5,330.0 77.1,329.6 77.7,328.7 78.4,328.6 79.0,328.7 79.6,329.5 80.2,330.4 80.8,331.4 81.5,330.7 82.1,329.2 82.7,327.9 83.3,326.9 84.0,327.9 84.6,328.7 85.2,329.2 85.8,328.4 86.4,326.8 87.1,328.9 87.7,331.3 88.3,329.8 88.9,329.2 89.5,330.6 90.2,331.1 90.8,330.9 91.4,330.5 92.0,330.1 92.7,332.2 93.3,333.2 93.9,331.0 94.5,329.9 95.1,329.9 95.8,330.7 96.4,331.8 97.0,332.4 97.6,332.8 98.3,332.0 98.9,331.2 99.5,330.2 100.1,331.1 100.7,333.0 101.4,333.1 102.0,333.4 102.6,335.0 103.2,335.1 103.8,332.8 104.5,332.3 105.1,332.8 105.7,332.3 106.3,331.5 107.0,330.7 107.6,330.6 108.2,332.3 108.8,333.5 109.4,334.4 110.1,333.2 110.7,331.4 111.3,331.8 111.9,332.0 112.6,331.6 113.2,332.7 113.8,335.3 114.4,334.6 115.0,332.7 115.7,333.9 116.3,334.7 116.9,333.2 117.5,332.9 118.1,333.9 118.8,333.8 119.4,333.2 120.0,331.5 120.6,330.4 121.3,332.9 121.9,334.7 122.5,335.3 123.1,333.8 123.7,331.1 124.4,332.4 125.0,334.2 125.6,333.9 126.2,333.5 126.9,332.8 127.5,332.8 128.1,333.5 128.7,332.2 129.3,330.2 130.0,332.1 130.6,333.6 131.2,334.0 131.8,332.4 132.4,328.9 133.1,327.9 133.7,327.7 134.3,327.6 134.9,326.4 135.6,322.2 136.2,317.0 136.8,309.1 137.4,293.1 138.0,259.8 138.7,204.7 139.3,139.1 139.8,110.3 139.9,110.9 140.5,153.7 141.2,221.6 141.8,271.7 142.4,297.3 143.0,312.4 143.6,321.2 144.3,323.4 144.9,325.5 145.5,328.9 146.1,330.4 146.7,330.5 147.4,331.0 148.0,331.5 148.6,333.1 149.2,334.3 149.9,334.4 150.5,334.9 151.1,335.8 151.7,336.8 152.3,337.7 153.0,337.4 153.6,335.1 154.2,328.3 154.8,318.6 155.4,313.6 155.5,313.6 156.1,319.6 156.7,328.4 157.3,335.0 157.9,338.6 158.6,340.2 159.2,340.5 159.8,339.4 160.4,339.3 161.0,339.7 161.7,339.4 162.3,339.1 162.9,340.2 163.5,341.2 164.2,342.1 164.8,340.3 165.4,336.5 166.0,338.2 166.6,341.3 167.3,340.6 167.9,339.5 168.5,337.8 169.1,338.2 169.8,340.9 170.4,341.4 171.0,341.0 171.6,341.5 172.2,341.5 172.9,339.8 173.5,340.4 174.1,343.9 174.7,343.8 175.3,341.7 176.0,341.2 176.6,341.0 177.2,342.9 177.8,343.8 178.5,343.0 179.1,342.7 179.7,342.9 180.3,343.3 180.9,343.3 181.6,340.1 182.2,339.1 182.8,342.9 183.4,343.5 184.1,341.5 184.7,341.5 185.3,342.2 185.9,342.9 186.5,342.9 187.2,341.3 187.8,341.0 188.4,342.0 189.0,342.7 189.6,343.1 190.3,342.4 190.9,341.8 191.5,342.4 192.1,341.8 192.8,339.7 193.4,339.3 194.0,339.7 194.6,339.7 195.2,340.0 195.9,341.5 196.5,343.7 197.1,347.1 197.7,346.3 198.3,342.8 199.0,341.9 199.6,341.5 200.2,341.6 200.8,342.0 201.5,343.0 202.1,343.4 202.7,343.1 203.3,341.6 203.9,339.8 204.6,341.9 205.2,343.3 205.8,342.2 206.4,342.1 207.1,342.9 207.7,341.1 208.3,338.3 208.9,338.6 209.5,339.3 210.2,341.4 210.8,341.6 211.4,339.1 212.0,339.7 212.6,341.8 213.3,341.9 213.9,341.7 214.5,341.3 215.1,341.0 215.8,340.5 216.4,339.2 217.0,336.4 217.6,332.2 218.2,327.7 218.6,326.6 218.9,327.0 219.5,330.3 220.1,334.7 220.7,339.3 221.4,343.6 222.0,343.1 222.6,340.9 223.2,339.1 223.8,336.1 224.5,332.6 225.1,330.3 225.1,330.3 225.7,330.9 226.3,333.1 226.9,335.6 227.6,335.4 228.2,334.0 228.8,332.4 229.4,327.7 230.1,318.9 230.7,309.4 231.3,302.9 231.6,302.1 231.9,303.1 232.5,310.1 233.2,319.7 233.8,328.0 234.4,334.0 235.0,335.3 235.7,332.9 236.3,329.6 236.8,328.8 236.9,328.9 237.5,331.2 238.1,334.6 238.8,336.4 239.4,338.1 240.0,339.6 240.6,339.6 241.2,339.2 241.9,338.6 242.5,338.8 243.1,340.9 243.7,342.0 244.4,341.8 245.0,341.5 245.6,341.2 246.2,341.8 246.8,342.5 247.5,344.2 248.1,344.4 248.7,342.5 249.3,341.6 250.0,341.1 250.6,342.1 251.2,342.8 251.8,340.3 252.4,339.6 253.1,341.8 253.7,341.5 254.3,339.5 254.9,338.5 255.5,337.8 256.2,337.7 256.6,337.6 256.8,337.7 257.4,339.4 258.0,340.7 258.7,339.5 259.3,340.9 259.9,343.0 260.5,342.6 261.1,341.9 261.8,340.2 262.4,340.5 263.0,342.8 263.6,342.2 264.3,340.5 264.9,339.8 265.5,339.5 266.1,340.1 266.7,340.6 267.4,340.6 268.0,341.5 268.6,342.8 269.2,341.7 269.8,340.9 270.5,343.1 271.1,344.0 271.7,342.7 272.3,341.7 273.0,340.8 273.6,340.5 274.2,340.5 274.8,341.5 275.4,341.5 276.1,339.3 276.7,338.3 277.3,338.1 277.9,339.1 278.6,340.3 279.2,341.8 279.8,342.7 280.4,342.3 281.0,342.0 281.7,341.8 282.3,341.6 282.9,341.3 283.5,339.5 284.1,338.3 284.8,340.0 285.4,340.4 286.0,339.0 286.6,340.2 287.3,342.7 287.9,342.1 288.5,341.4 289.1,341.2 289.7,341.3 290.4,341.7 291.0,341.8 291.6,341.7 292.2,341.5 292.9,341.3 293.5,341.3 294.1,341.0 294.7,340.0 295.3,339.0 296.0,338.1 296.6,339.0 297.2,340.3 297.8,341.1 298.4,341.4 299.1,340.5 299.7,339.1 300.3,337.0 300.9,336.3 301.6,335.6 302.2,332.6 302.8,328.8 303.4,325.1 304.0,318.6 304.7,308.6 305.3,298.0 305.9,288.5 306.5,285.1 306.5,285.2 307.1,292.2 307.8,303.0 308.4,313.4 309.0,322.5 309.6,327.4 310.3,329.2 310.9,331.7 311.5,333.7 312.1,335.7 312.7,337.3 313.4,338.6 314.0,339.0 314.6,338.7 315.2,339.9 315.9,341.3 316.5,340.0 317.1,339.6 317.7,341.6 318.3,342.5 319.0,342.3 319.6,340.8 320.2,338.8 320.8,340.4 321.4,341.7 322.1,340.9 322.7,341.1 323.3,342.3 323.9,341.7 324.6,340.2 325.2,340.9 325.8,341.6 326.4,341.9 327.0,340.8 327.7,337.6 328.3,336.9 328.9,337.7 329.5,339.5 330.2,341.2 330.8,341.0 331.4,341.1 332.0,342.2 332.6,342.3 333.3,341.5 333.9,340.1 334.5,338.7 335.1,340.2 335.7,341.0 336.4,339.9 337.0,339.5 337.6,339.9 338.2,339.7 338.9,339.3 339.5,339.9 340.1,340.1 340.7,338.1 341.3,337.0 342.0,337.0 342.6,335.9 343.2,334.3 343.8,337.4 344.5,339.9 345.1,335.5 345.7,331.8 346.3,329.5 346.9,325.9 347.6,321.1 348.2,316.1 348.8,310.9 349.4,307.0 349.8,306.1 350.0,306.3 350.7,309.7 351.3,315.1 351.9,319.7 352.5,323.5 353.2,326.0 353.8,325.9 354.4,324.6 355.0,322.7 355.6,319.5 356.3,314.9 356.9,307.5 357.5,301.8 357.9,301.0 358.1,301.7 358.8,306.5 359.4,311.4 360.0,317.8 360.6,325.9 361.2,330.6 361.9,333.2 362.5,336.1 363.1,337.8 363.7,334.8 364.3,334.0 365.0,337.3 365.6,338.6 366.2,338.7 366.8,338.9 367.5,338.7 368.1,337.6 368.7,337.2 369.1,337.2 369.3,337.4 369.9,338.7 370.6,340.2 371.2,340.6 371.8,340.4 372.4,340.3 373.1,340.2 373.7,340.3 374.3,340.4 374.9,340.3 375.5,340.6 376.2,341.0 376.8,340.4 377.4,339.6 378.0,338.4 378.6,339.1 379.3,342.3 379.9,341.5 380.5,338.5 381.1,339.6 381.8,340.8 382.4,339.7 383.0,339.4 383.6,340.4 384.2,340.4 384.9,339.7 385.5,340.4 386.1,341.1 386.7,340.4 387.4,339.7 388.0,339.3 388.6,339.9 389.2,341.4 389.8,342.5 390.5,343.5 391.1,342.5 391.7,341.7 392.3,341.5 392.9,340.8 393.6,339.7 394.2,340.1 394.8,341.0 395.4,341.5 396.1,341.6 396.7,340.6 397.3,340.6 397.9,342.0 398.5,341.9 399.2,340.9 399.8,341.1 400.4,341.3 401.0,340.4 401.7,339.8 402.3,339.7 402.9,340.0 403.5,340.6 404.1,340.7 404.8,340.7 405.4,340.4 406.0,339.7 406.6,338.1 407.2,337.3 407.9,337.0 408.5,336.9 409.1,336.6 409.7,333.5 410.4,330.9 411.0,331.1 411.6,328.6 412.2,323.1 412.8,317.3 413.5,312.6 414.0,311.1 414.1,311.1 414.7,313.4 415.3,319.4 415.9,325.1 416.6,328.3 417.2,332.7 417.8,337.2 418.4,337.8 419.1,337.4 419.7,336.5 420.3,336.7 420.9,339.3 421.5,339.8 422.2,338.9 422.8,338.9 423.4,339.1 424.0,339.6 424.7,339.9 425.3,340.1 425.9,340.5 426.5,340.9 427.1,341.5 427.8,342.0 428.4,341.7 429.0,341.3 429.6,340.2 430.2,339.4 430.9,338.8 431.5,339.0 432.1,339.6 432.7,340.7 433.4,341.7 434.0,342.2 434.6,342.8 435.2,343.7 435.8,342.0 436.5,339.1 437.1,340.0 437.7,341.1 438.3,340.8 439.0,340.6 439.6,340.4 440.2,340.7 440.8,341.2 441.4,340.9 442.1,340.6 442.7,340.6 443.3,340.4 443.9,340.0 444.5,340.4 445.2,341.4 445.8,342.0 446.4,342.6 447.0,343.2 447.7,343.0 448.3,340.9 448.9,339.6 449.5,339.0 450.1,339.3 450.8,340.0 451.4,339.4 452.0,339.1 452.6,340.7 453.3,340.6 453.9,338.3 454.5,337.4 455.1,337.1 455.7,334.2 456.4,330.9 457.0,329.3 457.6,327.5 458.2,325.7 458.8,325.0 458.8,325.1 459.5,326.9 460.1,328.6 460.7,329.4 461.3,332.9 462.0,334.9 462.6,333.9 463.2,334.2 463.8,335.4 464.4,335.7 465.1,335.5 465.7,334.9 466.3,334.0 466.9,333.3 467.6,332.1 468.2,330.5 468.8,328.9 469.1,328.8 469.4,328.5 470.0,329.7 470.7,332.4 471.3,332.6 471.9,334.7 472.5,339.0 473.1,340.1 473.8,339.4 474.4,339.7 475.0,340.0 475.6,339.9 476.3,340.0 476.9,340.2 477.5,340.4 478.1,340.5 478.7,340.0 479.4,339.6 480.0,340.9 480.6,341.8 481.2,341.3 481.9,341.4 482.5,341.9 483.1,341.4 483.7,340.7 484.3,341.4 485.0,341.5 485.6,340.2 486.2,341.5 486.8,345.5 487.4,343.7 488.1,339.7 488.7,339.8 489.3,340.2 489.9,341.5 490.6,342.3 491.2,342.5 491.8,341.3 492.4,339.4 493.0,338.4 493.7,337.6 494.3,337.8 494.9,338.0 495.5,338.3 496.2,338.4 496.8,338.4 497.4,338.7 498.0,339.1 498.6,339.8 499.3,340.1 499.9,339.5 500.5,337.6 501.1,334.7 501.7,333.5 502.4,332.5 503.0,330.3 503.6,328.0 504.2,326.5 504.3,326.5 504.9,327.4 505.5,328.7 506.1,330.1 506.7,331.6 507.3,334.6 508.0,336.9 508.6,338.0 509.2,337.4 509.8,334.9 510.5,334.8 511.1,334.7 511.1,334.8 511.7,336.1 512.3,338.2 512.9,338.1 513.6,337.6 514.2,337.1 514.8,337.6 515.4,338.8 516.0,339.4 516.7,339.8 517.3,340.7 517.9,340.7 518.5,338.7 519.2,339.9 519.8,343.8 520.4,344.6 521.0,344.4 521.6,341.6 522.3,339.2 522.9,338.2 523.5,338.5 524.1,340.0 524.7,340.9 525.4,341.5 526.0,342.3 526.6,342.9 527.2,342.3 527.9,341.6 528.5,340.8 529.1,339.4 529.7,337.8 530.3,339.7 531.0,341.7 531.6,342.0 532.2,341.8 532.8,340.8 533.5,340.7 534.1,341.2 534.7,341.3 535.3,341.2 535.9,340.8 536.6,340.2 537.2,339.4 537.8,339.7 538.4,341.1 539.0,340.2 539.7,338.6"/>
<polyline stroke="#12a8fa" points="28.0,350.5 28.6,348.4 29.2,348.9 29.9,349.7 30.5,349.6 31.1,349.3 31.7,348.5 32.4,349.0 33.0,350.5 33.6,349.3 34.2,347.4 34.8,349.0 35.5,349.9 36.1,348.7 36.7,349.0 37.3,350.9 37.9,351.0 38.6,350.6 39.2,352.1 39.8,353.2 40.4,352.6 41.1,352.0 41.7,351.4 42.3,351.7 42.9,352.5 43.5,353.7 44.2,354.4 44.8,352.4 45.4,351.5 46.0,352.1 46.7,352.6 47.3,352.9 47.9,352.9 48.5,352.9 49.1,352.5 49.8,352.0 50.4,351.5 51.0,351.8 51.6,352.9 52.2,352.7 52.9,352.1 53.5,351.7 54.1,351.6 54.7,352.3 55.4,353.5 56.0,355.2 56.6,355.4 57.2,355.1 57.8,355.1 58.5,355.2 59.1,355.5 59.7,355.3 60.3,354.2 61.0,354.2 61.6,354.5 62.2,354.1 62.8,353.8 63.4,354.3 64.1,354.6 64.7,354.3 65.3,355.3 65.9,357.0 66.5,355.8 67.2,354.3 67.8,354.7 68.4,355.5 69.0,357.1 69.7,357.4 70.3,356.8 70.9,356.4 71.5,356.2 72.1,356.3 72.8,356.0 73.4,354.9 74.0,356.0 74.6,359.2 75.3,359.5 75.9,358.9 76.5,357.4 77.1,356.2 77.7,355.9 78.4,356.3 79.0,357.8 79.6,357.6 80.2,356.6 80.8,357.9 81.5,359.2 82.1,359.1 82.7,358.6 83.3,357.8 84.0,357.7 84.6,358.1 85.2,359.7 85.8,361.1 86.4,358.6 87.1,357.3 87.7,358.4 88.3,359.3 88.9,360.1 89.5,359.7 90.2,358.9 90.8,359.0 91.4,359.2 92.0,359.7 92.7,359.7 93.3,359.2 93.9,360.1 94.5,361.7 95.1,360.4 95.8,359.1 96.4,358.4 97.0,359.8 97.6,363.8 98.3,362.8 98.9,359.4 99.5,360.4 100.1,361.5 100.7,361.4 101.4,361.1 102.0,360.5 102.6,359.4 103.2,358.1 103.8,360.6 104.5,363.6 105.1,363.6 105.7,363.4 106.3,362.8 107.0,362.2 107.6,361.6 108.2,363.1 108.8,364.8 109.4,361.6 110.1,359.8 110.7,361.9 111.3,363.2 111.9,363.7 112.6,363.1 113.2,362.0 113.8,361.3 114.4,360.6 115.0,360.7 115.7,360.6 116.3,360.3 116.9,360.4 117.5,360.6 118.1,361.4 118.8,362.0 119.4,360.4 120.0,360.5 120.6,363.2 121.3,363.1 121.9,361.4 122.5,362.6 123.1,364.1 123.7,363.7 124.4,362.6 125.0,360.3 125.6,359.9 126.2,361.0 126.9,360.7 127.5,360.0 128.1,361.6 128.7,362.8 129.3,363.2 130.0,361.2 130.6,356.8 131.2,357.0 131.8,358.7 132.4,356.9 133.1,355.3 133.7,355.7 134.3,352.6 134.9,345.0 135.6,341.6 136.2,338.6 136.8,326.3 137.4,301.5 138.0,257.2 138.7,193.0 139.3,126.9 139.8,100.9 139.9,101.5 140.5,142.9 141.2,211.3 141.8,269.1 142.4,308.9 143.0,330.0 143.6,339.3 144.3,346.1 144.9,352.5 145.5,353.5 146.1,352.8 146.7,354.9 147.4,357.0 148.0,360.2 148.6,361.9 149.2,362.3 149.9,362.8 150.5,363.3 151.1,363.4 151.7,363.7 152.3,365.2 153.0,364.0 153.6,358.2 154.2,348.9 154.8,336.6 155.4,330.3 155.5,330.3 156.1,338.7 156.7,351.6 157.3,360.7 157.9,366.1 158.6,366.6 159.2,364.7 159.8,366.0 160.4,367.5 161.0,367.6 161.7,368.0 162.3,368.9 162.9,369.3 163.5,369.2 164.2,368.9 164.8,368.5 165.4,367.4 166.0,366.6 166.6,367.1 167.3,367.3 167.9,367.4 168.5,368.6 169.1,370.2 169.8,367.8 170.4,365.8 171.0,365.9 171.6,366.1 172.2,366.5 172.9,368.2 173.5,370.5 174.1,369.9 174.7,369.2 175.3,370.0 176.0,370.6 176.6,370.9 177.2,370.1 177.8,368.7 178.5,368.6 179.1,368.5 179.7,366.5 180.3,366.4 180.9,370.2 181.6,370.7 182.2,368.8 182.8,369.9 183.4,371.7 184.1,369.2 184.7,368.1 185.3,370.9 185.9,372.1 186.5,371.5 187.2,370.3 187.8,369.0 188.4,369.8 189.0,370.1 189.6,368.1 190.3,368.1 190.9,370.7 191.5,370.2 192.1,368.2 192.8,369.1 193.4,370.4 194.0,372.9 194.6,373.2 195.2,370.3 195.9,369.7 196.5,370.5 197.1,369.9 197.7,369.3 198.3,370.9 199.0,372.0 199.6,371.9 200.2,372.1 200.8,372.4 201.5,371.0 202.1,369.3 202.7,372.1 203.3,373.2 203.9,369.6 204.6,368.5 205.2,369.8 205.8,370.7 206.4,371.3 207.1,370.4 207.7,369.7 208.3,370.3 208.9,370.4 209.5,370.1 210.2,370.1 210.8,370.2 211.4,368.9 212.0,368.1 212.6,370.7 213.3,372.1 213.9,371.6 214.5,370.9 215.1,370.2 215.8,369.6 216.4,368.3 217.0,365.4 217.6,360.4 218.2,355.4 218.6,354.5 218.9,355.1 219.5,360.5 220.1,364.9 220.7,366.5 221.4,368.7 222.0,369.8 222.6,370.0 223.2,367.6 223.8,362.4 224.5,357.4 225.1,354.7 225.1,354.6 225.7,356.3 226.3,360.4 226.9,363.0 227.6,363.1 228.2,360.6 228.8,357.3 229.4,352.3 230.1,342.1 230.7,330.0 231.3,321.2 231.6,319.8 231.9,320.9 232.5,330.1 233.2,340.4 233.8,346.5 234.4,354.4 235.0,359.4 235.7,358.1 236.3,354.2 236.8,352.6 236.9,352.7 237.5,356.0 238.1,359.9 238.8,364.9 239.4,369.0 240.0,368.5 240.6,368.3 241.2,369.7 241.9,369.8 242.5,368.8 243.1,370.3 243.7,372.6 244.4,371.8 245.0,370.8 245.6,369.6 246.2,369.3 246.8,370.2 247.5,370.3 248.1,370.0 248.7,371.3 249.3,372.5 250.0,371.6 250.6,371.2 251.2,371.5 251.8,371.8 252.4,372.0 253.1,371.4 253.7,370.6 254.3,369.8 254.9,368.8 255.5,367.6 256.2,365.3 256.6,364.5 256.8,364.5 257.4,366.1 258.0,368.8 258.7,369.5 259.3,369.7 259.9,369.9 260.5,369.5 261.1,368.8 261.8,369.3 262.4,370.3 263.0,370.3 263.6,370.1 264.3,369.8 264.9,370.8 265.5,373.4 266.1,371.7 266.7,367.9 267.4,369.2 268.0,370.5 268.6,369.7 269.2,369.6 269.8,370.4 270.5,371.8 271.1,373.5 271.7,372.8 272.3,371.8 273.0,372.0 273.6,371.8 274.2,370.6 274.8,369.0 275.4,366.8 276.1,367.3 276.7,368.3 277.3,368.3 277.9,368.0 278.6,367.2 279.2,367.9 279.8,370.2 280.4,370.8 281.0,370.6 281.7,371.7 282.3,372.3 282.9,371.4 283.5,370.6 284.1,369.9 284.8,369.3 285.4,368.6 286.0,369.5 286.6,370.2 287.3,369.6 287.9,369.7 288.5,370.6 289.1,371.7 289.7,372.7 290.4,371.9 291.0,370.9 291.6,370.9 292.2,370.9 292.9,370.9 293.5,370.6 294.1,369.9 294.7,369.7 295.3,369.6 296.0,369.0 296.6,368.0 297.2,366.1 297.8,365.0 298.4,364.7 299.1,364.8 299.7,365.1 300.3,365.5 300.9,364.9 301.6,361.1 302.2,356.4 302.8,350.4 303.4,344.3 304.0,336.5 304.7,328.0 305.3,315.2 305.9,298.3 306.5,292.9 306.5,293.0 307.1,301.0 307.8,316.1 308.4,330.4 309.0,340.5 309.6,347.3 310.3,353.0 310.9,357.5 311.5,361.8 312.1,363.7 312.7,363.8 313.4,364.6 314.0,365.6 314.6,367.2 315.2,368.3 315.9,368.1 316.5,368.7 317.1,370.1 317.7,369.7 318.3,368.8 319.0,369.3 319.6,369.8 320.2,369.5 320.8,369.7 321.4,370.5 322.1,370.9 322.7,371.0 323.3,369.8 323.9,369.0 324.6,370.5 325.2,370.8 325.8,369.1 326.4,367.7 327.0,366.4 327.7,368.1 328.3,370.2 328.9,370.8 329.5,370.8 330.2,369.9 330.8,369.2 331.4,368.7 332.0,368.8 332.6,369.0 333.3,369.1 333.9,368.8 334.5,367.3 335.1,367.0 335.7,367.9 336.4,368.0 337.0,367.8 337.6,368.0 338.2,368.3 338.9,369.4 339.5,369.8 340.1,369.3 340.7,368.2 341.3,366.8 342.0,366.0 342.6,365.2 343.2,364.4 343.8,363.2 344.5,361.4 345.1,359.6 345.7,357.6 346.3,354.8 346.9,350.8 347.6,344.4 348.2,337.1 348.8,330.2 349.4,324.2 349.8,322.7 350.0,322.8 350.7,326.7 351.3,334.6 351.9,343.4 352.5,349.7 353.2,351.5 353.8,351.8 354.4,350.8 355.0,348.4 355.6,344.2 356.3,339.9 356.9,334.1 357.5,328.8 357.9,327.9 358.1,328.6 358.8,333.6 359.4,340.8 360.0,347.7 360.6,354.8 361.2,359.9 361.9,360.9 362.5,361.8 363.1,363.4 363.7,364.5 364.3,365.2 365.0,362.9 365.6,360.6 366.2,364.3 366.8,366.0 367.5,364.0 368.1,363.3 368.7,362.4 369.1,361.9 369.3,362.1 369.9,363.6 370.6,367.0 371.2,369.4 371.8,369.0 372.4,368.5 373.1,368.0 373.7,368.7 374.3,369.8 374.9,369.9 375.5,369.7 376.2,369.0 376.8,369.3 377.4,371.1 378.0,371.8 378.6,372.1 379.3,373.2 379.9,373.8 380.5,371.0 381.1,369.9 381.8,371.5 382.4,372.0 383.0,371.8 383.6,370.9 384.2,369.8 384.9,368.8 385.5,368.4 386.1,369.3 386.7,368.7 387.4,367.0 388.0,367.6 388.6,368.9 389.2,369.4 389.8,369.9 390.5,370.1 391.1,370.9 391.7,372.2 392.3,371.5 392.9,370.1 393.6,371.1 394.2,371.6 394.8,370.3 395.4,369.7 396.1,370.1 396.7,369.9 397.3,369.5 397.9,369.8 398.5,370.1 399.2,369.9 399.8,370.1 400.4,370.8 401.0,370.6 401.7,369.8 402.3,369.8 402.9,369.8 403.5,368.2 404.1,367.5 404.8,368.8 405.4,369.7 406.0,370.3 406.6,369.7 407.2,368.7 407.9,369.0 408.5,368.6 409.1,366.9 409.7,364.8 410.4,362.1 411.0,359.1 411.6,355.3 412.2,349.7 412.8,343.5 413.5,338.6 414.0,336.6 414.1,336.7 414.7,340.8 415.3,346.3 415.9,350.3 416.6,355.9 417.2,360.5 417.8,363.4 418.4,365.1 419.1,365.4 419.7,365.9 420.3,366.4 420.9,368.2 421.5,370.1 422.2,371.2 422.8,371.5 423.4,370.0 424.0,369.8 424.7,370.5 425.3,370.7 425.9,370.7 426.5,370.5 427.1,370.2 427.8,369.4 428.4,368.8 429.0,368.5 429.6,369.1 430.2,370.0 430.9,369.7 431.5,369.5 432.1,369.6 432.7,369.6 433.4,369.5 434.0,369.3 434.6,369.1 435.2,370.7 435.8,372.0 436.5,370.3 437.1,369.0 437.7,368.4 438.3,368.3 439.0,368.6 439.6,368.7 440.2,369.0 440.8,371.5 441.4,372.9 442.1,371.8 442.7,371.1 443.3,370.7 443.9,369.2 444.5,367.4 445.2,369.1 445.8,370.0 446.4,368.9 447.0,369.3 447.7,371.1 448.3,370.2 448.9,368.4 449.5,367.5 450.1,367.1 450.8,368.4 451.4,369.7 452.0,370.9 452.6,370.5 453.3,369.2 453.9,367.4 454.5,365.6 455.1,366.2 455.7,365.5 456.4,363.0 457.0,360.0 457.6,356.9 458.2,354.6 458.8,353.6 458.8,353.6 459.5,354.0 460.1,355.9 460.7,361.5 461.3,364.3 462.0,364.2 462.6,365.0 463.2,365.4 463.8,365.5 464.4,365.5 465.1,366.2 465.7,365.0 466.3,361.8 466.9,358.6 467.6,355.5 468.2,354.7 468.8,354.6 469.1,354.7 469.4,354.8 470.0,356.1 470.7,359.0 471.3,361.7 471.9,364.0 472.5,363.7 473.1,363.5 473.8,367.5 474.4,369.0 475.0,366.8 475.6,366.6 476.3,367.4 476.9,368.8 477.5,370.0 478.1,370.2 478.7,370.0 479.4,369.4 480.0,368.7 480.6,368.2 481.2,368.7 481.9,369.5 482.5,369.6 483.1,369.6 483.7,369.0 484.3,368.9 485.0,369.2 485.6,369.9 486.2,370.8 486.8,371.9 487.4,372.5 488.1,371.7 488.7,370.2 489.3,367.9 489.9,368.4 490.6,370.1 491.2,370.5 491.8,370.4 492.4,368.1 493.0,367.2 493.7,368.8 494.3,369.9 494.9,370.9 495.5,369.3 496.2,367.4 496.8,366.7 497.4,366.7 498.0,368.4 498.6,368.8 499.3,367.9 499.9,367.7 500.5,367.3 501.1,364.6 501.7,361.6 502.4,359.3 503.0,356.0 503.6,352.7 504.2,351.0 504.3,350.9 504.9,351.8 505.5,353.3 506.1,355.6 506.7,360.9 507.3,364.6 508.0,366.4 508.6,365.2 509.2,362.2 509.8,362.8 510.5,363.3 511.1,363.2 511.1,363.2 511.7,364.1 512.3,366.9 512.9,368.0 513.6,367.1 514.2,366.9 514.8,366.9 515.4,369.7 516.0,370.8 516.7,369.0 517.3,368.2 517.9,368.1 518.5,370.4 519.2,373.3 519.8,373.0 520.4,372.1 521.0,369.8 521.6,369.3 522.3,370.6 522.9,370.4 523.5,369.8 524.1,369.3 524.7,369.5 525.4,372.3 526.0,372.6 526.6,369.8 527.2,370.1 527.9,371.8 528.5,370.9 529.1,370.0 529.7,371.0 530.3,371.7 531.0,371.8 531.6,371.3 532.2,370.4 532.8,370.2 533.5,370.1 534.1,370.1 534.7,370.4 535.3,371.5 535.9,371.4 536.6,370.5 537.2,370.4 537.8,370.5 538.4,369.6 539.0,369.0 539.7,369.3"/>
</g>
<g stroke="#000" fill="none">
<rect x="28.0" y="3.8" width="512.0" height="376.5" stroke-width="2"/>
<line x1="28.0" y1="380.3" x2="28.0" y2="388.5" stroke-width="2"/>
<line x1="64.6" y1="380.3" x2="64.6" y2="384.6" stroke-width="1.7"/>
<line x1="101.1" y1="380.3" x2="101.1" y2="388.5" stroke-width="2"/>
<line x1="137.7" y1="380.3" x2="137.7" y2="384.6" stroke-width="1.7"/>
<line x1="174.3" y1="380.3" x2="174.3" y2="388.5" stroke-width="2"/>
<line x1="210.9" y1="380.3" x2="210.9" y2="384.6" stroke-width="1.7"/>
<line x1="247.4" y1="380.3" x2="247.4" y2="388.5" stroke-width="2"/>
<line x1="284.0" y1="380.3" x2="284.0" y2="384.6" stroke-width="1.7"/>
<line x1="320.6" y1="380.3" x2="320.6" y2="388.5" stroke-width="2"/>
<line x1="357.1" y1="380.3" x2="357.1" y2="384.6" stroke-width="1.7"/>
<line x1="393.7" y1="380.3" x2="393.7" y2="388.5" stroke-width="2"/>
<line x1="430.3" y1="380.3" x2="430.3" y2="384.6" stroke-width="1.7"/>
<line x1="466.9" y1="380.3" x2="466.9" y2="388.5" stroke-width="2"/>
<line x1="503.4" y1="380.3" x2="503.4" y2="384.6" stroke-width="1.7"/>
<line x1="540.0" y1="380.3" x2="540.0" y2="388.5" stroke-width="2"/>
</g>
<text x="28.0" y="404" font-size="15" text-anchor="middle">10</text>
<text x="101.1" y="404" font-size="15" text-anchor="middle">20</text>
<text x="174.3" y="404" font-size="15" text-anchor="middle">30</text>
<text x="247.4" y="404" font-size="15" text-anchor="middle">40</text>
<text x="320.6" y="404" font-size="15" text-anchor="middle">50</text>
<text x="393.7" y="404" font-size="15" text-anchor="middle">60</text>
<text x="466.9" y="404" font-size="15" text-anchor="middle">70</text>
<text x="540.0" y="404" font-size="15" text-anchor="middle">80</text>
<text x="230.5" y="423.7" font-size="16" textLength="106" lengthAdjust="spacingAndGlyphs">2 theta (degree)</text>
<text transform="translate(15,272) rotate(-90)" font-size="16" textLength="169.3" lengthAdjust="spacingAndGlyphs">Intensity (arbitrary units)</text>
<text x="34" y="21" font-size="12" textLength="60" lengthAdjust="spacingAndGlyphs">A: Anatase</text>
<text x="34" y="39.6" font-size="12" textLength="47.6" lengthAdjust="spacingAndGlyphs">R: Rutile</text>
<line x1="413" y1="21.2" x2="455.2" y2="21.2" stroke="#69ab30" stroke-width="1.5"/>
<text x="458.8" y="26.5" font-size="16" textLength="72.6" lengthAdjust="spacingAndGlyphs">Cu/P25-Ar</text>
<line x1="413" y1="43.6" x2="455.2" y2="43.6" stroke="#8e22e2" stroke-width="1.5"/>
<text x="458.8" y="48.9" font-size="16" textLength="68.6" lengthAdjust="spacingAndGlyphs">Ni/P25-Ar</text>
<line x1="413" y1="66.1" x2="455.2" y2="66.1" stroke="#ff2a97" stroke-width="1.5"/>
<text x="458.8" y="71.4" font-size="16" textLength="72.2" lengthAdjust="spacingAndGlyphs">Co/P25-Ar</text>
<line x1="413" y1="88.6" x2="455.2" y2="88.6" stroke="#ffad12" stroke-width="1.5"/>
<text x="458.8" y="93.9" font-size="16" textLength="69.4" lengthAdjust="spacingAndGlyphs">Cr/P25-Ar</text>
<line x1="413" y1="111.0" x2="455.2" y2="111.0" stroke="#12a8fa" stroke-width="1.5"/>
<text x="458.8" y="116.3" font-size="16" textLength="47.2" lengthAdjust="spacingAndGlyphs">P25-Ar</text>
<text class="s" transform="translate(135.0,32.7) rotate(-90)" font-size="8" textLength="26.4" lengthAdjust="spacingAndGlyphs">A (101)</text>
<text class="s" transform="translate(160.0,197.6) rotate(-90)" font-size="8" textLength="25.2" lengthAdjust="spacingAndGlyphs">R (110)</text>
<text class="s" transform="translate(221.6,229.6) rotate(-90)" font-size="8" textLength="25.2" lengthAdjust="spacingAndGlyphs">R (101)</text>
<text class="s" transform="translate(234.0,205.6) rotate(-90)" font-size="8" textLength="26.2" lengthAdjust="spacingAndGlyphs">A (004)</text>
<text class="s" transform="translate(309.0,185.0) rotate(-90)" font-size="8" textLength="26.0" lengthAdjust="spacingAndGlyphs">A (200)</text>
<text class="s" transform="translate(352.4,207.6) rotate(-90)" font-size="8" textLength="26.0" lengthAdjust="spacingAndGlyphs">A (105)</text>
<text class="s" transform="translate(364.4,209.0) rotate(-90)" font-size="8" textLength="26.0" lengthAdjust="spacingAndGlyphs">A (211)</text>
<text class="s" transform="translate(416.0,216.6) rotate(-90)" font-size="8" textLength="25.8" lengthAdjust="spacingAndGlyphs">A (204)</text>
<text class="s" transform="translate(460.3,232.6) rotate(-90)" font-size="8" textLength="26.0" lengthAdjust="spacingAndGlyphs">A (116)</text>
<text class="s" transform="translate(474.0,233.8) rotate(-90)" font-size="8" textLength="26.0" lengthAdjust="spacingAndGlyphs">A (220)</text>
<text class="s" transform="translate(507.6,224.4) rotate(-90)" font-size="8" textLength="25.6" lengthAdjust="spacingAndGlyphs">A (215)</text>
</svg></body></html>
